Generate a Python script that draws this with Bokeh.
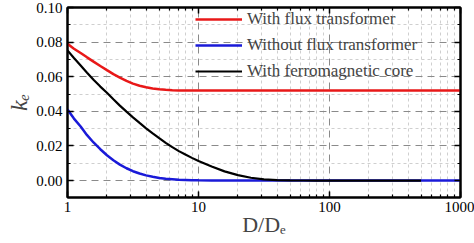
from bokeh.plotting import figure
from bokeh.models import (Range1d, FixedTicker, LogAxis, LinearAxis, PrintfTickFormatter,
                          Legend, LegendItem)
from bokeh.embed import file_html
from bokeh.resources import INLINE

# ---- data ----
d_main = [1, 1.12, 1.26, 1.41, 1.58, 1.78, 2, 2.24, 2.51, 2.82, 3.16, 3.55, 3.98, 4.47, 5.01, 5.62,
          6.31, 7.08, 7.94, 8.91, 10, 12.6, 15.8, 20, 25.1, 31.6, 39.8, 50, 63, 79, 100, 200, 500, 1000]
ke_flux = [0.079, 0.0762, 0.0737, 0.0712, 0.0687, 0.0662, 0.0638, 0.0615, 0.0595, 0.0576, 0.0560,
           0.0548, 0.0539, 0.0532, 0.0527, 0.0524, 0.0522, 0.0521, 0.0520, 0.0520, 0.0520,
           0.052, 0.052, 0.052, 0.052, 0.052, 0.052, 0.052, 0.052, 0.052, 0.052, 0.052, 0.052, 0.052]
ke_noflux = [0.041, 0.0358, 0.0312, 0.0262, 0.0220, 0.0181, 0.0146, 0.0117, 0.0092, 0.0071, 0.0054,
             0.0041, 0.0030, 0.0022, 0.0015, 0.0010, 0.0007, 0.0004, 0.0003, 0.0002, 0.0001,
             0.0, 0.0, 0.0, 0.0, 0.0, 0.0, 0.0, 0.0, 0.0, 0.0, 0.0, 0.0, 0.0]
d_core = [1, 1.12, 1.26, 1.41, 1.58, 1.78, 2, 2.24, 2.51, 2.82, 3.16, 3.55, 3.98, 4.47, 5.01, 5.62,
          6.31, 7.08, 7.94, 8.91, 10, 12.6, 15.8, 20, 25.1, 31.6, 39.8, 50, 63, 79, 100, 200, 500]
ke_core = [0.0752, 0.0708, 0.0665, 0.0623, 0.0582, 0.0543, 0.0507, 0.0470, 0.0433, 0.0398, 0.0365,
           0.0333, 0.0302, 0.0273, 0.0245, 0.0218, 0.0193, 0.0170, 0.0150, 0.0131, 0.0113,
           0.0081, 0.0053, 0.0031, 0.0016, 0.0007, 0.00025, 0.00008, 0.00002, 0.0, 0.0, 0.0, 0.0]
series_names = ["With flux transformer", "Without flux transformer", "With ferromagnetic core"]
x_ticks = [1, 10, 100, 1000]
x_minor = [2, 3, 4, 5, 6, 7, 8, 9, 20, 30, 40, 50, 60, 70, 80, 90, 200, 300, 400, 500, 600, 700, 800, 900]
y_ticks = [0.0, 0.02, 0.04, 0.06, 0.08, 0.10]
y_minor = [0.01, 0.03, 0.05, 0.07, 0.09]
x_title = "D/Dₑ"
y_title = "kₑ"

FONT = "'Liberation Serif'"

p = figure(width=474, height=243, x_axis_type="log", output_backend="svg", toolbar_location=None,
           x_range=Range1d(1, 1000), y_range=Range1d(-0.0098, 0.10),
           min_border_left=67, min_border_right=14, min_border_top=7, min_border_bottom=46)
p.background_fill_color = "white"
p.border_fill_color = "white"
p.outline_line_color = "black"
p.outline_line_width = 2

xt = FixedTicker(ticks=x_ticks, minor_ticks=x_minor)
yt = FixedTicker(ticks=y_ticks, minor_ticks=y_minor)

def style_axis(ax, show_labels):
    ax.axis_line_color = "black"
    ax.axis_line_width = 2
    ax.major_tick_in = 6
    ax.major_tick_out = 0
    ax.minor_tick_in = 3
    ax.minor_tick_out = 0
    ax.major_tick_line_width = 1.5
    ax.minor_tick_line_width = 1.2
    ax.major_tick_line_color = "black"
    ax.minor_tick_line_color = "black"
    if show_labels:
        ax.major_label_text_font = FONT
        ax.major_label_text_font_size = "15px"
        ax.major_label_text_color = "black"
    else:
        ax.major_label_text_font_size = "1px"
        ax.major_label_text_alpha = 0
        ax.major_label_standoff = 0

xa = p.xaxis[0]
xa.ticker = xt
xa.major_label_overrides = {1: "1", 10: "10", 100: "100", 1000: "1000"}
xa.major_label_standoff = 4
style_axis(xa, True)
xa.axis_label = x_title
xa.axis_label_text_font = FONT
xa.axis_label_text_font_style = "normal"
xa.axis_label_text_font_size = "22px"
xa.axis_label_standoff = -3

ya = p.yaxis[0]
ya.ticker = yt
ya.formatter = PrintfTickFormatter(format="%.2f")
ya.major_label_standoff = 5
style_axis(ya, True)
ya.axis_label = y_title
ya.axis_label_text_font = FONT
ya.axis_label_text_font_style = "italic"
ya.axis_label_text_font_size = "24px"
ya.axis_label_standoff = 1

top = LogAxis(ticker=xt)
style_axis(top, False)
p.add_layout(top, "above")
right = LinearAxis(ticker=yt)
style_axis(right, False)
p.add_layout(right, "right")

p.xgrid.ticker = xt
p.ygrid.ticker = yt
for g in (p.xgrid, p.ygrid):
    g.grid_line_color = "#8a8a8a"
    g.grid_line_dash = "7 5"
    g.grid_line_width = 1
    g.minor_grid_line_color = "#cfcfcf"
    g.minor_grid_line_dash = "3 3"
    g.minor_grid_line_width = 1

r1 = p.line(d_main, ke_flux, line_color="#e81818", line_width=2.5)
r2 = p.line(d_main, ke_noflux, line_color="#1a1ad8", line_width=2.5)
r3 = p.line(d_core, ke_core, line_color="black", line_width=2.2)

legend = Legend(items=[LegendItem(label=series_names[0], renderers=[r1]),
                       LegendItem(label=series_names[1], renderers=[r2]),
                       LegendItem(label=series_names[2], renderers=[r3])],
                location=(128, 116), padding=0, margin=0, spacing=6,
                glyph_width=47, glyph_height=20, label_height=20, label_standoff=5,
                background_fill_alpha=0, border_line_color=None)
p.add_layout(legend, "center")
legend.label_text_font = FONT
legend.label_text_font_size = "17px"

open("out.html", "w").write(file_html(p, INLINE))
